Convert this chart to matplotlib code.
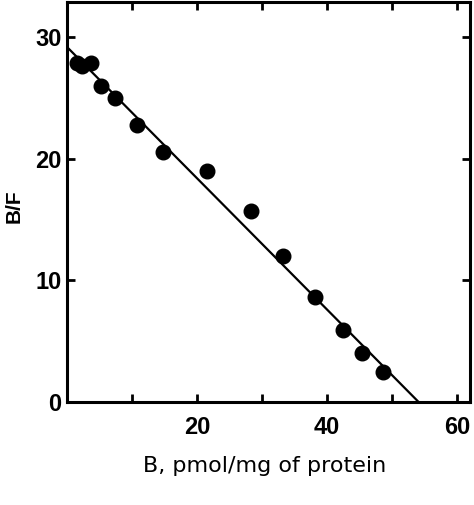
"""Scatchard plot: B/F against bound ligand B."""

import matplotlib
matplotlib.use("Agg")
import matplotlib.pyplot as plt

# bound ligand, pmol/mg of protein
b_bound = [1.5, 2.3, 3.7, 5.2, 7.4, 10.8, 14.8, 21.5, 28.3, 33.3, 38.2, 42.5, 45.4, 48.6]
# bound / free ratio
b_over_f = [27.9, 27.6, 27.9, 26.0, 25.0, 22.8, 20.6, 19.0, 15.7, 12.0, 8.6, 5.9, 4.0, 2.5]

# regression line: end points
fit_x = [0.0, 54.1]
fit_y = [29.2, 0.0]

x_ticks = [10, 20, 30, 40, 50, 60]
x_tick_labels = ["", "20", "", "40", "", "60"]
y_ticks = [0, 10, 20, 30]
y_tick_labels = ["0", "10", "20", "30"]

TICK_FONT = ["Liberation Sans", "DejaVu Sans"]

fig = plt.figure(figsize=(4.74, 5.05), dpi=100)
ax = fig.add_axes([0.1414, 0.204, 0.850, 0.792])

ax.plot(fit_x, fit_y, color="black", lw=1.6, solid_capstyle="butt", zorder=2)
ax.plot(b_bound, b_over_f, "o", color="black", ms=10.5, zorder=3)

ax.set_xlim(0, 62)
ax.set_ylim(0, 32.9)

ax.set_xticks(x_ticks)
ax.set_xticklabels(x_tick_labels, fontfamily=TICK_FONT, fontweight="bold", fontsize=17)
ax.set_yticks(y_ticks)
ax.set_yticklabels(y_tick_labels, fontfamily=TICK_FONT, fontweight="bold", fontsize=17)

ax.tick_params(direction="in", length=6, width=2, top=True, right=True)
ax.tick_params(axis="x", pad=10)
ax.tick_params(axis="y", pad=4)
for side in ax.spines.values():
    side.set_linewidth(2.2)

ax.set_xlabel("B, pmol/mg of protein", fontfamily="DejaVu Sans", fontsize=16)
ax.xaxis.set_label_coords(0.49, -0.135)
ax.set_ylabel("B/F", fontfamily=TICK_FONT, fontweight="bold", fontsize=15)
ax.yaxis.set_label_coords(-0.108, 0.49)

fig.savefig("out.png", dpi=100)
